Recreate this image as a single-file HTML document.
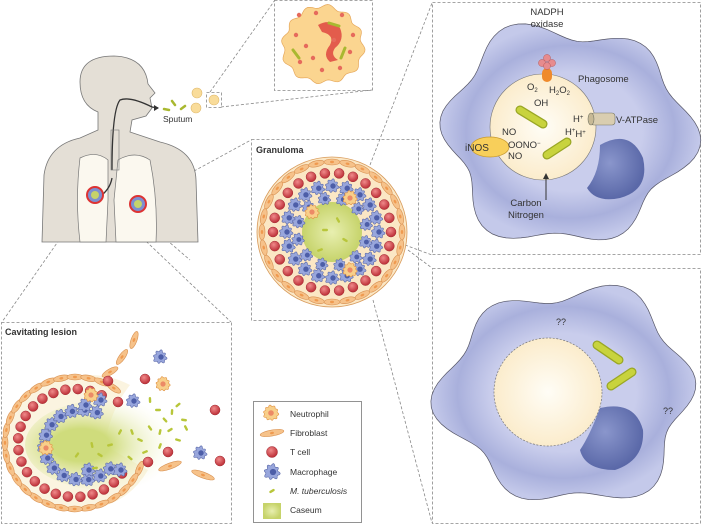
<!DOCTYPE html>
<html><head><meta charset="utf-8"><style>
html,body{margin:0;padding:0;background:#fff}
svg{display:block}
text{font-family:"Liberation Sans",sans-serif;fill:#333}
</style></head><body>
<svg id="s" width="703" height="525" viewBox="0 0 703 525" xmlns="http://www.w3.org/2000/svg">
<defs>
<radialGradient id="mac" cx="50%" cy="50%" r="50%"><stop offset="0.55" stop-color="#c9cdec"/><stop offset="0.8" stop-color="#a9b0dc"/><stop offset="1" stop-color="#c4c9ea"/></radialGradient>
<radialGradient id="pha" cx="50%" cy="50%" r="50%"><stop offset="0" stop-color="#fffdf6"/><stop offset="1" stop-color="#fbeccc"/></radialGradient>
<radialGradient id="nuc" cx="40%" cy="40%" r="60%"><stop offset="0" stop-color="#8a96cc"/><stop offset="1" stop-color="#5a68a8"/></radialGradient>
<radialGradient id="cas" cx="50%" cy="50%" r="50%"><stop offset="0" stop-color="#e8efb0"/><stop offset="1" stop-color="#c6d36a"/></radialGradient>
<radialGradient id="cav" cx="35%" cy="50%" r="60%"><stop offset="0.3" stop-color="#cfdc7c"/><stop offset="1" stop-color="#fbf8e4" stop-opacity="0"/></radialGradient>
<radialGradient id="tc" cx="40%" cy="35%" r="60%"><stop offset="0" stop-color="#f08a8a"/><stop offset="1" stop-color="#c0353d"/></radialGradient>
</defs>
<g fill="none" stroke="#888" stroke-dasharray="3,2" stroke-width="0.8">
<rect x="274.5" y="0.5" width="98" height="90"/>
<rect x="432.5" y="2.5" width="268" height="252"/>
<rect x="432.5" y="268.5" width="268" height="255"/>
<rect x="251.5" y="139.5" width="167" height="181"/>
<rect x="1.5" y="322.5" width="230" height="201"/>
<rect x="206.5" y="92.5" width="15" height="15"/>
<rect x="81" y="183" width="30" height="24"/>
<rect x="124" y="193" width="30" height="24"/>
<line x1="210" y1="92" x2="275" y2="0"/><line x1="221" y1="107" x2="372" y2="90"/>
<line x1="150" y1="195" x2="251" y2="140"/>
<line x1="370" y1="165" x2="432" y2="3"/><line x1="405" y1="245" x2="432" y2="255"/>
<line x1="373" y1="300" x2="432" y2="523"/><line x1="408" y1="250" x2="432" y2="268"/>
<line x1="82" y1="207" x2="2" y2="322"/><line x1="110" y1="207" x2="231" y2="322"/>
<line x1="140" y1="217" x2="190" y2="260"/>
</g>
<!-- human -->
<path d="M42 242 L44 175 Q48 145 80 138 L98 130 L98 112 Q80 105 80 82 Q80 56 114 56 Q145 57 148 84 L155 93 L150 98 L152 108 L146 116 L132 120 L130 132 L160 142 Q195 150 196 180 L198 242 Z" fill="#e4dfd6" stroke="#777" stroke-width="0.8"/>
<path d="M80 158 Q96 150 108 160 L108 200 L106 242 L80 242 Q75 200 80 158Z M118 160 Q135 150 150 160 Q158 200 156 242 L116 242 L114 200 Z" fill="#fbf8ef" stroke="#777" stroke-width="0.7"/>
<path d="M112 170 Q112 110 120 100 Q130 96 152 107" fill="none" stroke="#333" stroke-width="1.3"/>
<path d="M112 178 Q110 190 98 198" fill="none" stroke="#333" stroke-width="1.3"/>
<path d="M152 107 L158 108" stroke="#333" stroke-width="1.2"/><path d="M159 108 l-5 -3 l0 6z" fill="#333"/>
<rect x="111" y="130" width="8" height="40" fill="none" stroke="#777" stroke-width="0.6"/>
<circle cx="95" cy="195" r="8" fill="#7d8fd0" stroke="#d33" stroke-width="2"/><circle cx="95" cy="195" r="4" fill="#c6d36a"/>
<circle cx="138" cy="204" r="8" fill="#7d8fd0" stroke="#d33" stroke-width="2"/><circle cx="138" cy="204" r="4" fill="#c6d36a"/>
<text x="163" y="122" font-size="8.5">Sputum</text>
<g fill="#f9dc9a" stroke="#e0b86a" stroke-width="0.6"><circle cx="197" cy="93" r="5"/><circle cx="196" cy="108" r="5"/><circle cx="214" cy="100" r="5"/></g>
<g stroke="#a9b830" stroke-width="2.5" stroke-linecap="round"><line x1="164" y1="109" x2="169" y2="110"/><line x1="172" y1="101" x2="175" y2="105"/><line x1="181" y1="109" x2="185" y2="106"/></g>
<!-- neutrophil top -->
<path id="neu" fill="#fbd590" stroke="#e6a85c" stroke-width="0.7" d=""/>
<path d="M318 25 Q330 18 340 28 Q345 40 335 48 Q330 55 338 60 L330 62 Q322 55 330 45 Q335 35 322 32Z" fill="#e35c4c"/>
<g stroke="#a9b830" stroke-width="3" stroke-linecap="round"><line x1="329" y1="23" x2="339" y2="26"/><line x1="293" y1="50" x2="299" y2="58"/><line x1="345" y1="48" x2="341" y2="58"/></g>
<!-- macrophages -->
<path id="m1" fill="url(#mac)" stroke="#556" stroke-width="0.7"/>
<path id="m2" fill="url(#mac)" stroke="#556" stroke-width="0.7"/>
<circle cx="543" cy="127" r="53" fill="url(#pha)" stroke="#777" stroke-width="0.6"/>
<path d="M600 145 Q630 128 643 158 Q650 190 620 198 Q596 203 587 188 Q600 172 600 145Z" fill="url(#nuc)"/>
<circle cx="548" cy="392" r="54" fill="url(#pha)" stroke="#777" stroke-width="0.7" stroke-dasharray="2,1.5"/>
<path d="M600 408 Q635 400 643 430 Q645 460 615 470 Q585 470 580 450 Q590 435 600 408Z" fill="url(#nuc)"/>
<g stroke="#9aa725" stroke-width="9" stroke-linecap="round"><line x1="520" y1="110" x2="543" y2="124"/><line x1="547" y1="155" x2="567" y2="142"/><line x1="597" y1="345" x2="619" y2="360"/><line x1="611" y1="386" x2="632" y2="372"/></g>
<g stroke="#c8d33d" stroke-width="6.5" stroke-linecap="round"><line x1="520" y1="110" x2="543" y2="124"/><line x1="547" y1="155" x2="567" y2="142"/><line x1="597" y1="345" x2="619" y2="360"/><line x1="611" y1="386" x2="632" y2="372"/></g>
<rect x="542" y="68" width="10" height="14" rx="5" fill="#ef8a2c"/>
<g fill="#e78b8e" stroke="#b55" stroke-width="0.5"><circle cx="542" cy="63" r="3.5"/><circle cx="552" cy="63" r="3.5"/><circle cx="547" cy="58" r="3.5"/><circle cx="547" cy="66" r="3.5"/></g>
<rect x="591" y="113" width="24" height="12" rx="3" fill="#d9cdb0" stroke="#776" stroke-width="0.6"/>
<ellipse cx="591" cy="119" rx="3" ry="6" fill="#c7b996" stroke="#776" stroke-width="0.6"/>
<ellipse cx="490" cy="147" rx="19" ry="10" fill="#f8cf5a" stroke="#c89a30" stroke-width="0.7"/>
<line x1="546" y1="200" x2="546" y2="178" stroke="#333" stroke-width="1"/><path d="M546 173 l-3 6 l6 0z" fill="#333"/>
<g font-size="9.5" text-anchor="middle">
<text x="547" y="15">NADPH</text><text x="547" y="27">oxidase</text>
<text x="477" y="151" font-size="10">iNOS</text>
<text x="526" y="206">Carbon</text><text x="526" y="218">Nitrogen</text>
</g>
<g font-size="9.5">
<text x="578" y="82">Phagosome</text><text x="616" y="123">V-ATPase</text>
<text x="527" y="90">O<tspan font-size="6" dy="2">2</tspan></text>
<text x="549" y="93">H<tspan font-size="6" dy="2">2</tspan><tspan dy="-2">O</tspan><tspan font-size="6" dy="2">2</tspan></text>
<text x="534" y="106">OH</text>
<text x="573" y="122">H<tspan font-size="6" dy="-3">+</tspan></text>
<text x="565" y="135">H<tspan font-size="6" dy="-3">+</tspan><tspan dy="5">H</tspan><tspan font-size="6" dy="-3">+</tspan></text>
<text x="502" y="135">NO</text><text x="508" y="148">OONO<tspan font-size="6" dy="-3">−</tspan></text><text x="508" y="159">NO</text>
<text x="556" y="325" font-size="9" fill="#445">??</text><text x="663" y="414" font-size="9" fill="#445">??</text>
</g>
<!-- granuloma -->
<circle cx="332" cy="232" r="75" fill="#fbe7c5" stroke="#d89a5a" stroke-width="0.8"/>
<g id="gr"></g>
<text x="256" y="153" font-size="9" font-weight="bold" fill="#111">Granuloma</text>
<!-- cavitating -->
<g id="cv"></g>
<text x="5" y="335" font-size="9" font-weight="bold" fill="#111">Cavitating lesion</text>
<!-- legend -->
<rect x="253.5" y="401.5" width="108" height="121" fill="#fff" stroke="#777" stroke-width="0.8"/>
<g id="lg"></g>
<g font-size="8.5">
<text x="290" y="417">Neutrophil</text><text x="290" y="436">Fibroblast</text><text x="290" y="455">T cell</text>
<text x="290" y="475">Macrophage</text><text x="290" y="494"><tspan font-style="italic">M. tuberculosis</tspan></text><text x="290" y="513">Caseum</text>
</g>
</svg>
<script>
var NS="http://www.w3.org/2000/svg";
function el(p,t,a){var e=document.createElementNS(NS,t);for(var k in a)e.setAttribute(k,a[k]);p.appendChild(e);return e;}
function blob(cx,cy,rx,ry,n,amp,ph){var d="";for(var i=0;i<=120;i++){var t=i/120*Math.PI*2;var r=1+amp*Math.sin(n*t+ph)+amp*0.5*Math.sin(3*t+ph*2);d+=(i?"L":"M")+(cx+rx*r*Math.cos(t)).toFixed(1)+" "+(cy+ry*r*Math.sin(t)).toFixed(1);}return d+"Z";}
document.getElementById("m1").setAttribute("d",blob(566,134,120,106,6,0.09,1));
document.getElementById("m2").setAttribute("d",blob(568,395,122,105,6,0.09,2.2));
document.getElementById("neu").setAttribute("d",blob(323,45,40,38,12,0.05,0));
var s=document.getElementById("s");
var ng=el(s,"g",{fill:"#e66a5c"});
[[299,15],[316,13],[296,35],[306,46],[313,58],[300,62],[322,70],[340,68],[350,52],[353,35],[342,15],[334,40]].forEach(function(p){el(ng,"circle",{cx:p[0],cy:p[1],r:2.2});});
function tcell(g,x,y,r){el(g,"circle",{cx:x,cy:y,r:r||5,fill:"url(#tc)",stroke:"#a02830","stroke-width":0.5});}
function macro(g,x,y,r){r=r||6;el(g,"path",{d:blob(x,y,r,r,8,0.15,0),fill:"#98a6dc",stroke:"#5a68a8","stroke-width":0.6});el(g,"circle",{cx:x+1,cy:y,r:r*0.45,fill:"#4d5ea8"});}
function neut(g,x,y,r){r=r||6.5;el(g,"path",{d:blob(x,y,r,r,10,0.1,0),fill:"#f8cf8a",stroke:"#e09040","stroke-width":0.6});el(g,"circle",{cx:x,cy:y,r:r*0.4,fill:"#ec8a66"});}
function fib(g,x,y,a,l){el(g,"ellipse",{cx:x,cy:y,rx:l||9,ry:3,fill:"#f6c28a",stroke:"#d89050","stroke-width":0.6,transform:"rotate("+a+" "+x+" "+y+")"});el(g,"ellipse",{cx:x,cy:y,rx:2,ry:1.2,fill:"#ef9a50",transform:"rotate("+a+" "+x+" "+y+")"});}
function rod(g,x,y,a){el(g,"rect",{x:x-3,y:y-1.2,width:6,height:2.4,rx:1.2,fill:"#b8c63a",transform:"rotate("+a+" "+x+" "+y+")"});}
var g=document.getElementById("gr"),cx=332,cy=232,i,t;
for(i=0;i<28;i++){t=i/28*Math.PI*2;fib(g,cx+70*Math.cos(t),cy+70*Math.sin(t),t*180/Math.PI+90,8);}
for(i=0;i<26;i++){t=i/26*Math.PI*2;tcell(g,cx+59*Math.cos(t),cy+59*Math.sin(t),5);}
el(g,"circle",{cx:cx,cy:cy,r:30,fill:"url(#cas)"});
for(i=0;i<20;i++){t=i/20*Math.PI*2;macro(g,cx+46*Math.cos(t),cy+46*Math.sin(t),6);}
for(i=0;i<12;i++){t=i/12*Math.PI*2+0.3;macro(g,cx+35*Math.cos(t),cy+34*Math.sin(t),5.5);}
neut(g,312,212);neut(g,350,198);neut(g,350,270);
[[325,230,0],[345,240,30],[320,250,-20],[338,220,60]].forEach(function(p){rod(g,p[0],p[1],p[2]);});
var c=document.getElementById("cv");cx=75;cy=443;
el(c,"path",{d:"M130 385 Q105 372 75 376 Q8 385 7 443 Q10 505 75 510 Q125 510 148 470 Q120 455 105 445 Q110 410 130 385Z",fill:"#fbf4e0"});
el(c,"ellipse",{cx:105,cy:445,rx:80,ry:45,fill:"url(#cav)"});
for(i=0;i<26;i++){t=0.4+i/25*(5.3-0.4);fib(c,cx+70*Math.cos(t),cy+66*Math.sin(t),t*180/Math.PI+90,8);}
[[122,357,-55],[134,340,-70],[110,372,-30]].forEach(function(p){fib(c,p[0],p[1],p[2],9);});
for(i=0;i<22;i++){t=0.6+i/21*(5.2-0.6);tcell(c,cx+57*Math.cos(t),cy+54*Math.sin(t),5);}
for(i=0;i<14;i++){t=0.75+i/13*(5.1-0.75);macro(c,82+38*Math.cos(t),445+35*Math.sin(t),6);}
[[85,405],[100,400],[133,401],[160,357],[200,453],[88,470],[120,470]].forEach(function(p){macro(c,p[0],p[1],6);});
neut(c,91,395);neut(c,46,448);neut(c,163,384);
[[145,379],[118,402],[168,452],[148,462],[220,461],[215,410],[108,381]].forEach(function(p){tcell(c,p[0],p[1],5);});
fib(c,170,466,-20,12);fib(c,203,475,20,12);
var rods=[[158,410],[165,420],[172,412],[178,405],[184,420],[150,428],[160,432],[170,430],[178,440],[186,428],[160,446],[145,452],[140,440],[132,432],[120,432],[110,445],[100,455],[92,445],[77,455],[95,468],[130,458],[150,400]];
rods.forEach(function(p,j){rod(c,p[0],p[1],(j*47)%180);});
var L=document.getElementById("lg");
neut(L,271,413,7);fib(L,272,433,-10,12);tcell(L,272,452,5.5);macro(L,272,472,7);rod(L,272,491,-30);
el(L,"rect",{x:263,y:503,width:18,height:16,fill:"url(#cas)"});
</script>
</body></html>
